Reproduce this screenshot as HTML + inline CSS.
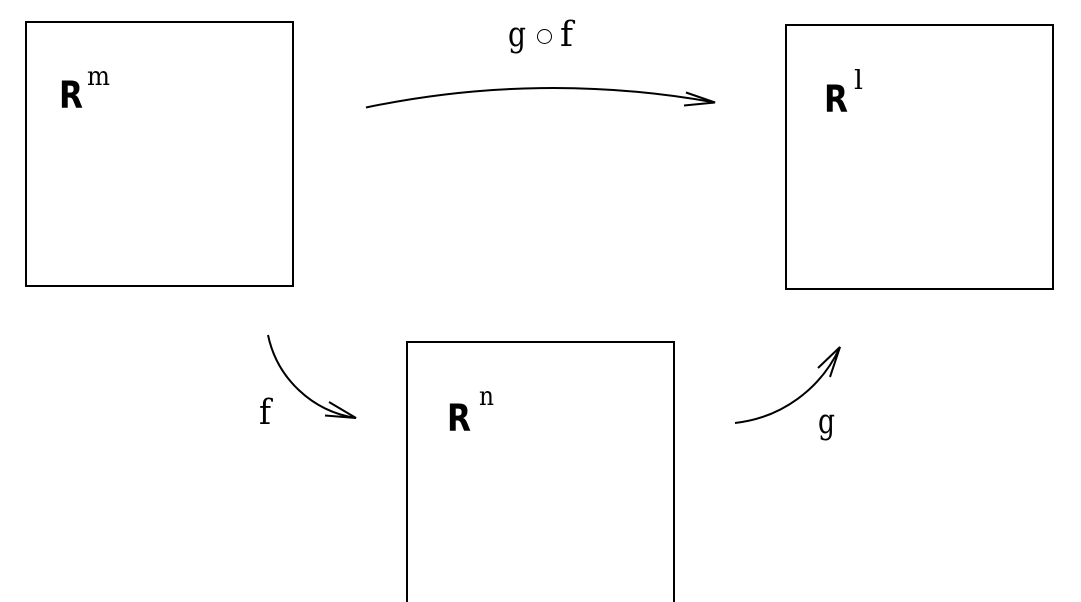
<!DOCTYPE html>
<html>
<head>
<meta charset="utf-8">
<style>
html,body{margin:0;padding:0;background:#fff;width:1081px;height:602px;overflow:hidden}
svg{display:block}
.r{font-family:"DejaVu Sans",sans-serif;font-weight:bold;font-size:37px;fill:#000}
.s{font-family:"DejaVu Serif","Liberation Serif",serif;font-size:26px;fill:#000}
.l{font-family:"DejaVu Serif","Liberation Serif",serif;font-size:35px;fill:#000}
</style>
</head>
<body>
<svg width="1081" height="602" viewBox="0 0 1081 602" xmlns="http://www.w3.org/2000/svg">
<g fill="none" stroke="#000" stroke-width="2">
<rect x="26" y="22" width="267" height="264"/>
<rect x="786" y="25" width="267" height="264"/>
<rect x="407" y="342" width="267" height="264"/>
<path d="M366 107.500A909 909 0 0 1 715 102.500"/>
<path d="M686 92.500L715 102.500L684 105.500"/>
<path d="M268 335A106 106 0 0 0 356 418"/>
<path d="M329 402L356 418L325 415.500"/>
<path d="M735 423A131 131 0 0 0 840 347"/>
<path d="M818 368L840 347L830 377"/>
</g>
<text class="r" x="59" y="108" textLength="24" lengthAdjust="spacingAndGlyphs">R</text>
<text class="r" x="824" y="112" textLength="24" lengthAdjust="spacingAndGlyphs">R</text>
<text class="r" x="447" y="431" textLength="24" lengthAdjust="spacingAndGlyphs">R</text>
<text class="s" x="87" y="85" textLength="23" lengthAdjust="spacingAndGlyphs">m</text>
<text class="s" x="854" y="89" textLength="9" lengthAdjust="spacingAndGlyphs">l</text>
<text class="s" x="479" y="405" textLength="15" lengthAdjust="spacingAndGlyphs">n</text>
<text class="l" x="508" y="46" textLength="18" lengthAdjust="spacingAndGlyphs">g</text>
<circle cx="544.500" cy="36.500" r="7" fill="none" stroke="#000" stroke-width="1"/>
<text class="l" x="560" y="46" textLength="13" lengthAdjust="spacingAndGlyphs">f</text>
<text class="l" x="259" y="424" textLength="12" lengthAdjust="spacingAndGlyphs">f</text>
<text class="l" x="818" y="433" textLength="17" lengthAdjust="spacingAndGlyphs">g</text>
</svg>
</body>
</html>
